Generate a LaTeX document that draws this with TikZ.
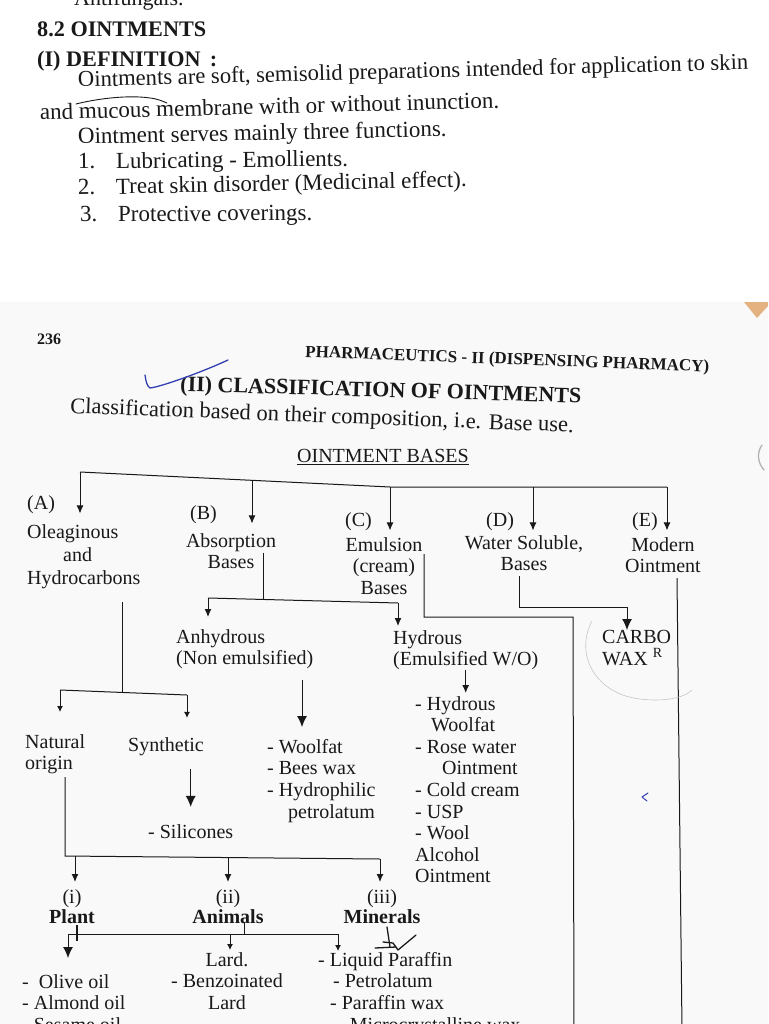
\documentclass[tikz,border=0pt]{standalone}
\usepackage{fontspec}
\setmainfont{Liberation Serif}
\usepackage{tikz}
\usetikzlibrary{arrows.meta}
\newcommand{\bodyfont}{\fontsize{23}{27}\selectfont}
\newcommand{\headfont}{\fontsize{22.2}{26}\selectfont\bfseries}
\newcommand{\dgmfont}{\fontsize{20}{21.6}\selectfont}
\definecolor{ink}{gray}{0.1}
\definecolor{paper}{gray}{0.975}
\definecolor{penblue}{rgb}{0.2,0.25,0.7}

\begin{document}
\begin{tikzpicture}[x=1pt,y=-1pt,>={Latex[length=8pt,width=7pt]},
  txt/.style={inner sep=0pt,text=ink,font=\dgmfont},
  body/.style={inner sep=0pt,text=ink,font=\bodyfont,anchor=base west},
  head/.style={inner sep=0pt,text=ink,font=\headfont,anchor=base west},
  link/.style={draw=ink,line width=1pt},
  arr/.style={link,->},
  bigarr/.style={link,-{Latex[length=11pt,width=10pt]}},
  smallarr/.style={link,-{Latex[length=6pt,width=6pt]}},
  pen/.style={line width=1.3pt,line cap=round,line join=round}]
  \useasboundingbox (0,0) rectangle (768,1024);
  \fill[white] (0,0) rectangle (768,302);
  \fill[paper] (0,302) rectangle (768,1024);
  \clip (0,0) rectangle (768,1024);
  % ---------------- upper page: definition
  \node[body,font=\fontsize{22}{26}\selectfont] (prevItem) at (74,6) {Antifungals.};
  \node[head] (secHead) at (37,37) {8.2 OINTMENTS};
  \node[head] (defHead) at (37,67) {(I) DEFINITION\ \,:};
  \node[body,rotate=1.5,font=\fontsize{22.6}{27}\selectfont] (defOne) at (78,87) {Ointments are soft, semisolid preparations intended for application to skin};
  \node[body,rotate=1.5] (defTwo) at (40,120) {and mucous membrane with or without inunction.};
  \node[body,rotate=1.2] (funcLine) at (78,144) {Ointment serves mainly three functions.};
  \node[body,rotate=0.6] (funcOne) at (78,169) {\makebox[38pt][l]{1.}Lubricating - Emollients.};
  \node[body,rotate=1.2] (funcTwo) at (78,195) {\makebox[38pt][l]{2.}Treat skin disorder (Medicinal effect).};
  \node[body,rotate=0.4] (funcThree) at (80,222) {\makebox[38pt][l]{3.}Protective coverings.};
  \draw[pen,ink,line width=0.9pt] (76,104) .. controls (100,98) and (130,95) .. (150,98) .. controls (158,99) and (162,101) .. (167,103);
  \fill[brown!70!orange!60] (744,302) -- (768,302) -- (768,306) -- (757,318) -- cycle;
  % ---------------- lower page: heading
  \node[head,font=\fontsize{16}{18}\selectfont\bfseries] (pageNo) at (37,344) {236};
  \node[head,font=\fontsize{17}{20}\selectfont\bfseries,rotate=-2.1] (runHead) at (305,357) {PHARMACEUTICS - II (DISPENSING PHARMACY)};
  \node[head,font=\fontsize{22}{26}\selectfont\bfseries,rotate=-1.7] (clsHead) at (180,391) {(II) CLASSIFICATION OF OINTMENTS};
  \node[body,font=\fontsize{22.5}{26}\selectfont,rotate=-2.2] (clsLine) at (70,413) {Classification based on their composition, i.e. Base use.};
  \node[txt] (root) at (383,457) {\underline{OINTMENT BASES}};
  \draw[pen,penblue] (145,375) .. controls (146,382) and (147,386) .. (150,388) .. controls (160,387) and (200,373) .. (228,360);
  \draw[pen,gray!60] (762,445) .. controls (757,452) and (757,462) .. (764,470);
  % ---------------- the five bases
  \node[txt,anchor=base west] (labA) at (27,509) {(A)};
  \node[txt,anchor=north west,align=left,font=\fontsize{20}{23}\selectfont] (nameA) at (27,524) {Oleaginous\\\hspace*{36pt}and\\Hydrocarbons};
  \node[txt,anchor=base west] (labB) at (190,519) {(B)};
  \node[txt,anchor=north,align=center] (nameB) at (231,533) {Absorption\\Bases};
  \node[txt,anchor=base west] (labC) at (345,526) {(C)};
  \node[txt,anchor=north,align=center] (nameC) at (384,537) {Emulsion\\(cream)\\Bases};
  \node[txt,anchor=base west] (labD) at (486,526) {(D)};
  \node[txt,anchor=north,align=center] (nameD) at (524,535) {Water Soluble,\\Bases};
  \node[txt,anchor=base west] (labE) at (632,526) {(E)};
  \node[txt,anchor=north,align=center] (nameE) at (663,537) {Modern\\Ointment};
  \coordinate (barL) at (80,472);
  \coordinate (barB) at (252,481);
  \coordinate (barM) at (390,487);
  \coordinate (barD) at (533,487);
  \coordinate (barR) at (667,487);
  \draw[link] (barL) -- (barM) -- (barR);
  \draw[arr] (barL) -- (barL |- labA.south);
  \draw[arr] (barB) -- (barB |- labB.south);
  \draw[arr] (barM) -- (barM |- labC.south);
  \draw[arr] (barD) -- (barD |- labD.south);
  \draw[arr] (barR) -- (barR |- labE.south);
  % ---------------- absorption, emulsion, water soluble
  \node[txt,anchor=north west,align=left] (anhyd) at (176,629) {Anhydrous\\(Non emulsified)};
  \node[txt,anchor=north west,align=left] (hydr) at (393,630) {Hydrous\\(Emulsified W/O)};
  \node[txt,anchor=north west,align=left] (carbo) at (602,630) {CARBO\\WAX \textsuperscript{R}};
  \coordinate (absTop) at (263,553);
  \coordinate (absJ) at (263,599);
  \coordinate (absL) at (208,598);
  \coordinate (absR) at (398,603);
  \draw[link] (absTop) -- (absJ);
  \draw[link] (absL) -- (absR);
  \draw[arr,shorten >=12pt] (absL) -- (absL |- anhyd.north);
  \draw[arr,shorten >=4pt] (absR) -- (absR |- hydr.north);
  \coordinate (emuTop) at (424,554);
  \coordinate (emuBend) at (424,617);
  \coordinate (emuTurn) at (573,617);
  \coordinate (emuEnd) at (574,1030);
  \draw[link] (emuTop) -- (emuBend) -- (emuTurn) -- (emuEnd);
  \coordinate (wsTop) at (519,576);
  \coordinate (wsBend) at (519,607);
  \coordinate (wsTurn) at (627,607);
  \draw[bigarr] (wsTop) -- (wsBend) -- (wsTurn) -- (wsTurn |- carbo.north);
  \coordinate (modTop) at (677,578);
  \coordinate (modEnd) at (682,1030);
  \draw[link] (modTop) -- (modEnd);
  \draw[gray!45,line width=0.6pt] (592,621) .. controls (574,655) and (596,694) .. (640,699) .. controls (664,702) and (684,698) .. (692,690);
  \draw[pen,penblue,line width=1pt] (648,793) -- (642,797) -- (647,801);
  % ---------------- oleaginous split
  \node[txt,anchor=north west,align=left] (natural) at (25,734) {Natural\\origin};
  \node[txt,anchor=base west] (synth) at (128,751) {Synthetic};
  \node[txt,anchor=base west] (silic) at (148,838) {- Silicones};
  \coordinate (oleTop) at (122,602);
  \coordinate (oleJ) at (122,692);
  \coordinate (oleL) at (60,690);
  \coordinate (oleR) at (187,695);
  \draw[link] (oleTop) -- (oleJ);
  \draw[link] (oleL) -- (oleR);
  \draw[smallarr,shorten >=22pt] (oleL) -- (oleL |- natural.north);
  \draw[smallarr,shorten >=19pt] (oleR) -- (oleR |- synth.north);
  \draw[bigarr,shorten <=13pt,shorten >=17pt] (silic.north |- synth.south) -- (silic.north);
  % ---------------- lists under anhydrous and hydrous
  \node[txt,anchor=north west,align=left] (woolList) at (267,739) {- Woolfat\\- Bees wax\\- Hydrophilic\\\hspace*{21pt}petrolatum};
  \node[txt,anchor=north west,align=left] (hydList) at (415,696) {- Hydrous\\\hspace*{16pt}Woolfat\\- Rose water\\\hspace*{27pt}Ointment\\- Cold cream\\- USP\\- Wool\\Alcohol\\Ointment};
  \coordinate (anhOut) at (302,680);
  \draw[bigarr,shorten >=12pt] (anhOut) -- (anhOut |- woolList.north);
  \draw[arr,shorten >=3pt] (hydr.south) -- (hydr.south |- hydList.north);
  % ---------------- natural origin sources
  \node[txt,anchor=north,align=center,font=\fontsize{20}{20}\selectfont] (subI) at (72,889) {(i)\\\textbf{Plant}};
  \node[txt,anchor=north,align=center,font=\fontsize{20}{20}\selectfont] (subII) at (228,889) {(ii)\\\textbf{Animals}};
  \node[txt,anchor=north,align=center,font=\fontsize{20}{20}\selectfont] (subIII) at (382,889) {(iii)\\\textbf{Minerals}};
  \coordinate (natTop) at (65,777);
  \coordinate (srcL) at (65,856);
  \coordinate (srcI) at (75,856);
  \coordinate (srcII) at (228,858);
  \coordinate (srcR) at (380,859);
  \draw[link] (natTop) -- (srcL) -- (srcR);
  \draw[arr,shorten >=7pt] (srcI) -- (srcI |- subI.north);
  \draw[arr,shorten >=7pt] (srcII) -- (srcII |- subII.north);
  \draw[arr,shorten >=7pt] (srcR) -- (srcR |- subIII.north);
  \node[txt,anchor=north west,align=left] (plantList) at (22,974) {-\ \ Olive oil\\- Almond oil\\- Sesame oil};
  \node[txt,anchor=north,align=center] (lard) at (227,952) {Lard.\\- Benzoinated\\Lard};
  \node[txt,anchor=north west,align=left] (minList) at (318,952) {- Liquid Paraffin\\\hspace*{15pt}- Petrolatum\\\hspace*{12pt}- Paraffin wax\\\hspace*{20pt}- Microcrystalline wax};
  \coordinate (kindL) at (68,934);
  \coordinate (kindII) at (230,934);
  \coordinate (kindR) at (338,934);
  \draw[link] (kindL) -- (kindR);
  \draw[link] ([xshift=16pt]subII.south) -- ([xshift=16pt]subII.south |- kindL);
  \draw[ink,line width=2.2pt] (77,925) -- (77,941);
  \draw[bigarr,shorten >=16pt] (kindL) -- (kindL |- plantList.north);
  \draw[smallarr,shorten >=2pt] (kindII) -- (kindII |- lard.north);
  \draw[smallarr,shorten >=1pt] (kindR) -- (kindR |- minList.north);
  \draw[pen,ink] (387,927) -- (390,947);
  \draw[pen,ink] (375,948) -- (396,947);
  \draw[pen,ink] (383,942) -- (393,943) -- (398,950) -- (416,935);
\end{tikzpicture}
\end{document}
